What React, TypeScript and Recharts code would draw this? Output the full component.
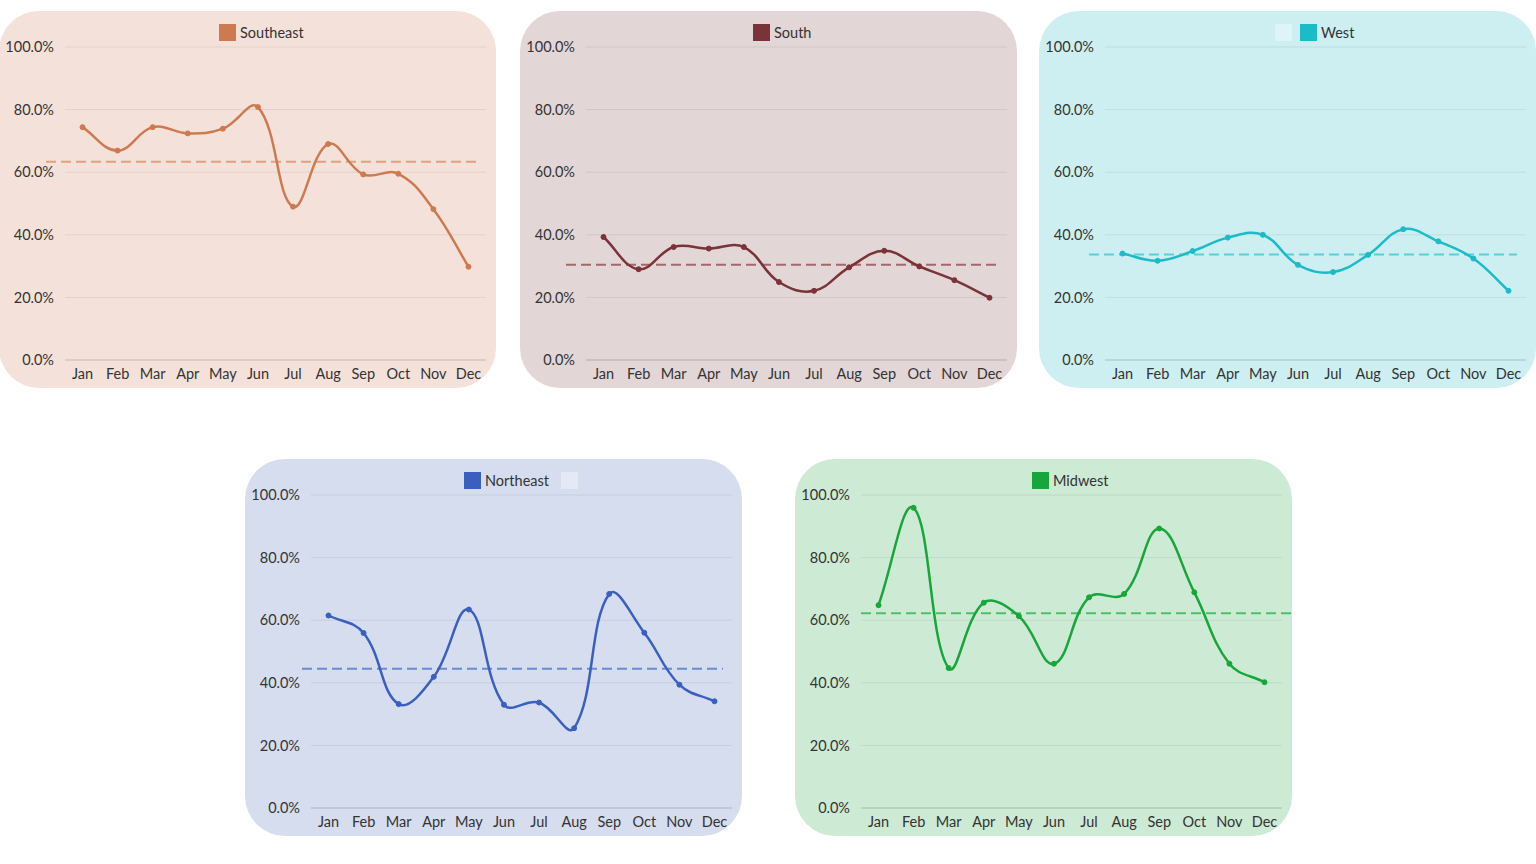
import React from 'react';
import { LineChart, Line, XAxis, YAxis, CartesianGrid, ReferenceLine } from 'recharts';

const months = ['Jan', 'Feb', 'Mar', 'Apr', 'May', 'Jun', 'Jul', 'Aug', 'Sep', 'Oct', 'Nov', 'Dec'];
const yTicks = [0, 20, 40, 60, 80, 100];

const southeast = [74.4, 66.9, 74.4, 72.4, 73.9, 80.8, 49.0, 69.0, 59.3, 59.5, 48.2, 29.8];
const south = [39.3, 29.0, 36.1, 35.6, 36.1, 24.9, 22.1, 29.6, 34.9, 29.9, 25.5, 19.9];
const west = [34.0, 31.7, 34.8, 39.1, 40.0, 30.4, 28.1, 33.6, 41.8, 37.9, 32.4, 22.1];
const northeast = [61.5, 55.9, 33.2, 41.9, 63.4, 33.0, 33.7, 25.5, 68.4, 56.0, 39.4, 34.1];
const midwest = [64.8, 95.9, 44.7, 65.6, 61.3, 46.1, 67.3, 68.4, 89.3, 68.9, 46.1, 40.2];

// dashed average lines
const averages = { southeast: 63.3, south: 30.4, west: 33.7, northeast: 44.5, midwest: 62.2 };

const FONT = 'Lato, "Open Sans", sans-serif';

// chart.js style spline (tension 0.4)
const splineCurve = (tension: number) => (context: any) => {
  let pts: number[][] = [];
  return {
    areaStart() {},
    areaEnd() {},
    lineStart() {
      pts = [];
    },
    point(x: number, y: number) {
      pts.push([+x, +y]);
    },
    lineEnd() {
      if (!pts.length) return;
      const cps = pts.map((p, i) => {
        const prev = pts[i - 1] || p;
        const next = pts[i + 1] || p;
        const d01 = Math.hypot(p[0] - prev[0], p[1] - prev[1]);
        const d12 = Math.hypot(next[0] - p[0], next[1] - p[1]);
        let s01 = d01 / (d01 + d12);
        let s12 = d12 / (d01 + d12);
        s01 = isNaN(s01) ? 0 : s01;
        s12 = isNaN(s12) ? 0 : s12;
        const fa = tension * s01;
        const fb = tension * s12;
        return {
          px: p[0] - fa * (next[0] - prev[0]),
          py: p[1] - fa * (next[1] - prev[1]),
          nx: p[0] + fb * (next[0] - prev[0]),
          ny: p[1] + fb * (next[1] - prev[1]),
        };
      });
      context.moveTo(pts[0][0], pts[0][1]);
      for (let i = 1; i < pts.length; i++) {
        context.bezierCurveTo(cps[i - 1].nx, cps[i - 1].ny, cps[i].px, cps[i].py, pts[i][0], pts[i][1]);
      }
    },
  };
};

const curve = splineCurve(0.4);

interface PanelProps {
  name: string;
  values: number[];
  avg: number;
  color: string;
  dashColor: string;
  bg: string;
  left: number;
  top: number;
  legendLeft: number;
  ghost?: 'before' | 'after';
  dashFrom: number;
  dashTo: number;
}

const W = 497;
const H = 377;

const Panel: React.FC<PanelProps> = (p) => {
  const data = months.map((m, i) => ({ month: m, value: p.values[i] }));

  const ghostBox = (
    <span style={{ width: 17, height: 17, background: 'rgba(255,255,255,0.35)', display: 'inline-block' }} />
  );

  const dashShape = (sp: any) => {
    const x1 = Number(sp.x1) + p.dashFrom;
    const x2 = Number(sp.x2) + p.dashTo;
    return <line x1={x1} x2={x2} y1={sp.y1} y2={sp.y2} stroke={p.dashColor} strokeWidth={2} strokeDasharray="10 5" />;
  };

  return (
    <div
      style={{
        position: 'absolute',
        left: p.left,
        top: p.top,
        width: W,
        height: H,
        borderRadius: 40,
        background: p.bg,
        overflow: 'hidden',
      }}
    >
      <div
        style={{
          position: 'absolute',
          top: 13,
          left: p.legendLeft,
          display: 'flex',
          alignItems: 'center',
          fontFamily: FONT,
          fontSize: 14.5,
          color: '#333',
          zIndex: 2,
        }}
      >
        {p.ghost === 'before' && <span style={{ marginRight: 8, display: 'flex' }}>{ghostBox}</span>}
        <span style={{ width: 17, height: 17, background: p.color, display: 'inline-block', marginRight: 4 }} />
        <span>{p.name}</span>
        {p.ghost === 'after' && <span style={{ marginLeft: 12, display: 'flex' }}>{ghostBox}</span>}
      </div>
      <LineChart width={W} height={H} data={data} margin={{ top: 36, right: 10, bottom: 0, left: 0 }}>
        <CartesianGrid vertical={false} stroke="rgba(0,0,0,0.07)" />
        <XAxis
          dataKey="month"
          interval={0}
          padding={{ left: 17.5, right: 17.5 }}
          height={28}
          tickLine={false}
          tickMargin={3}
          axisLine={{ stroke: 'rgba(0,0,0,0.13)' }}
          tick={{ fill: '#333', fontSize: 14.5, fontFamily: FONT }}
        />
        <YAxis
          domain={[0, 100]}
          ticks={yTicks}
          width={66}
          tickLine={false}
          axisLine={false}
          tickMargin={5}
          tickFormatter={(v: number) => `${v.toFixed(1)}%`}
          tick={{ fill: '#333', fontSize: 14.5, fontFamily: FONT }}
        />
        <ReferenceLine y={p.avg} ifOverflow="visible" shape={dashShape} />
        <Line
          dataKey="value"
          name={p.name}
          type={curve as any}
          stroke={p.color}
          strokeWidth={2.5}
          dot={{ r: 2.5, fill: p.color, stroke: p.color, strokeWidth: 1 }}
          activeDot={false}
          isAnimationActive={false}
        />
      </LineChart>
    </div>
  );
};

export default function App() {
  return (
    <div style={{ position: 'absolute', left: 0, top: 0, width: 1536, height: 864, background: '#fff', overflow: 'hidden' }}>
      <Panel
        name="Southeast"
        values={southeast}
        avg={averages.southeast}
        color="#cd7a50"
        dashColor="#e0a080"
        bg="#f4e2da"
        left={-1}
        top={11}
        legendLeft={220}
        dashFrom={-19}
        dashTo={-9}
      />
      <Panel
        name="South"
        values={south}
        avg={averages.south}
        color="#7a3338"
        dashColor="#a5676a"
        bg="#e2d6d6"
        left={520}
        top={11}
        legendLeft={233}
        dashFrom={-20}
        dashTo={-9}
      />
      <Panel
        name="West"
        values={west}
        avg={averages.west}
        color="#1bbbc7"
        dashColor="#5acfd8"
        bg="#cdeff2"
        left={1039}
        top={11}
        legendLeft={236}
        ghost="before"
        dashFrom={-16}
        dashTo={-9}
      />
      <Panel
        name="Northeast"
        values={northeast}
        avg={averages.northeast}
        color="#3a5fbf"
        dashColor="#6c89d4"
        bg="#d6ddef"
        left={245}
        top={459}
        legendLeft={219}
        ghost="after"
        dashFrom={-9}
        dashTo={-9}
      />
      <Panel
        name="Midwest"
        values={midwest}
        avg={averages.midwest}
        color="#18a53a"
        dashColor="#48c268"
        bg="#cdead5"
        left={795}
        top={459}
        legendLeft={237}
        dashFrom={0}
        dashTo={12}
      />
    </div>
  );
}
